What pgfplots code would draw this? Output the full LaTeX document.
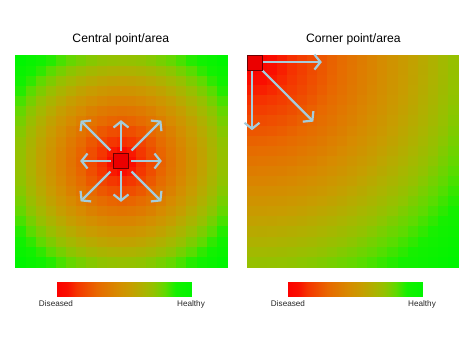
\documentclass[border=0pt]{standalone}
\usepackage{fontspec}
\setmainfont{Liberation Sans}
\usepackage{pgfplots}
\pgfplotsset{compat=1.18}
\usepackage{pgfplotstable}
\usetikzlibrary{arrows.meta}
\definecolor{arrowblue}{RGB}{165,205,220}
\definecolor{sqred}{RGB}{235,0,0}
\definecolor{sqedge}{RGB}{110,0,0}
\pgfplotsset{colormap={dh}{rgb255(0pt)=(252,0,0) rgb255(8pt)=(250,14,0) rgb255(15pt)=(245,52,0) rgb255(30pt)=(232,104,0) rgb255(45pt)=(215,138,0) rgb255(55pt)=(198,158,0) rgb255(65pt)=(170,180,0) rgb255(72pt)=(145,195,0) rgb255(80pt)=(95,218,0) rgb255(88pt)=(20,240,0) rgb255(100pt)=(0,245,0)}}
% squared distance of each cell (a,b) from the origin cell
\pgfplotstableread{
a b c
0 0 0
1 0 1
2 0 4
3 0 9
4 0 16
5 0 25
6 0 36
7 0 49
8 0 64
9 0 81
10 0 100
11 0 121
12 0 144
13 0 169
14 0 196
15 0 225
16 0 256
17 0 289
18 0 324
19 0 361
20 0 400
0 1 1
1 1 2
2 1 5
3 1 10
4 1 17
5 1 26
6 1 37
7 1 50
8 1 65
9 1 82
10 1 101
11 1 122
12 1 145
13 1 170
14 1 197
15 1 226
16 1 257
17 1 290
18 1 325
19 1 362
20 1 401
0 2 4
1 2 5
2 2 8
3 2 13
4 2 20
5 2 29
6 2 40
7 2 53
8 2 68
9 2 85
10 2 104
11 2 125
12 2 148
13 2 173
14 2 200
15 2 229
16 2 260
17 2 293
18 2 328
19 2 365
20 2 404
0 3 9
1 3 10
2 3 13
3 3 18
4 3 25
5 3 34
6 3 45
7 3 58
8 3 73
9 3 90
10 3 109
11 3 130
12 3 153
13 3 178
14 3 205
15 3 234
16 3 265
17 3 298
18 3 333
19 3 370
20 3 409
0 4 16
1 4 17
2 4 20
3 4 25
4 4 32
5 4 41
6 4 52
7 4 65
8 4 80
9 4 97
10 4 116
11 4 137
12 4 160
13 4 185
14 4 212
15 4 241
16 4 272
17 4 305
18 4 340
19 4 377
20 4 416
0 5 25
1 5 26
2 5 29
3 5 34
4 5 41
5 5 50
6 5 61
7 5 74
8 5 89
9 5 106
10 5 125
11 5 146
12 5 169
13 5 194
14 5 221
15 5 250
16 5 281
17 5 314
18 5 349
19 5 386
20 5 425
0 6 36
1 6 37
2 6 40
3 6 45
4 6 52
5 6 61
6 6 72
7 6 85
8 6 100
9 6 117
10 6 136
11 6 157
12 6 180
13 6 205
14 6 232
15 6 261
16 6 292
17 6 325
18 6 360
19 6 397
20 6 436
0 7 49
1 7 50
2 7 53
3 7 58
4 7 65
5 7 74
6 7 85
7 7 98
8 7 113
9 7 130
10 7 149
11 7 170
12 7 193
13 7 218
14 7 245
15 7 274
16 7 305
17 7 338
18 7 373
19 7 410
20 7 449
0 8 64
1 8 65
2 8 68
3 8 73
4 8 80
5 8 89
6 8 100
7 8 113
8 8 128
9 8 145
10 8 164
11 8 185
12 8 208
13 8 233
14 8 260
15 8 289
16 8 320
17 8 353
18 8 388
19 8 425
20 8 464
0 9 81
1 9 82
2 9 85
3 9 90
4 9 97
5 9 106
6 9 117
7 9 130
8 9 145
9 9 162
10 9 181
11 9 202
12 9 225
13 9 250
14 9 277
15 9 306
16 9 337
17 9 370
18 9 405
19 9 442
20 9 481
0 10 100
1 10 101
2 10 104
3 10 109
4 10 116
5 10 125
6 10 136
7 10 149
8 10 164
9 10 181
10 10 200
11 10 221
12 10 244
13 10 269
14 10 296
15 10 325
16 10 356
17 10 389
18 10 424
19 10 461
20 10 500
0 11 121
1 11 122
2 11 125
3 11 130
4 11 137
5 11 146
6 11 157
7 11 170
8 11 185
9 11 202
10 11 221
11 11 242
12 11 265
13 11 290
14 11 317
15 11 346
16 11 377
17 11 410
18 11 445
19 11 482
20 11 521
0 12 144
1 12 145
2 12 148
3 12 153
4 12 160
5 12 169
6 12 180
7 12 193
8 12 208
9 12 225
10 12 244
11 12 265
12 12 288
13 12 313
14 12 340
15 12 369
16 12 400
17 12 433
18 12 468
19 12 505
20 12 544
0 13 169
1 13 170
2 13 173
3 13 178
4 13 185
5 13 194
6 13 205
7 13 218
8 13 233
9 13 250
10 13 269
11 13 290
12 13 313
13 13 338
14 13 365
15 13 394
16 13 425
17 13 458
18 13 493
19 13 530
20 13 569
0 14 196
1 14 197
2 14 200
3 14 205
4 14 212
5 14 221
6 14 232
7 14 245
8 14 260
9 14 277
10 14 296
11 14 317
12 14 340
13 14 365
14 14 392
15 14 421
16 14 452
17 14 485
18 14 520
19 14 557
20 14 596
0 15 225
1 15 226
2 15 229
3 15 234
4 15 241
5 15 250
6 15 261
7 15 274
8 15 289
9 15 306
10 15 325
11 15 346
12 15 369
13 15 394
14 15 421
15 15 450
16 15 481
17 15 514
18 15 549
19 15 586
20 15 625
0 16 256
1 16 257
2 16 260
3 16 265
4 16 272
5 16 281
6 16 292
7 16 305
8 16 320
9 16 337
10 16 356
11 16 377
12 16 400
13 16 425
14 16 452
15 16 481
16 16 512
17 16 545
18 16 580
19 16 617
20 16 656
0 17 289
1 17 290
2 17 293
3 17 298
4 17 305
5 17 314
6 17 325
7 17 338
8 17 353
9 17 370
10 17 389
11 17 410
12 17 433
13 17 458
14 17 485
15 17 514
16 17 545
17 17 578
18 17 613
19 17 650
20 17 689
0 18 324
1 18 325
2 18 328
3 18 333
4 18 340
5 18 349
6 18 360
7 18 373
8 18 388
9 18 405
10 18 424
11 18 445
12 18 468
13 18 493
14 18 520
15 18 549
16 18 580
17 18 613
18 18 648
19 18 685
20 18 724
0 19 361
1 19 362
2 19 365
3 19 370
4 19 377
5 19 386
6 19 397
7 19 410
8 19 425
9 19 442
10 19 461
11 19 482
12 19 505
13 19 530
14 19 557
15 19 586
16 19 617
17 19 650
18 19 685
19 19 722
20 19 761
0 20 400
1 20 401
2 20 404
3 20 409
4 20 416
5 20 425
6 20 436
7 20 449
8 20 464
9 20 481
10 20 500
11 20 521
12 20 544
13 20 569
14 20 596
15 20 625
16 20 656
17 20 689
18 20 724
19 20 761
20 20 800
}\cells
\tikzset{arr/.style={draw=arrowblue, line width=2.2bp, -{Straight Barb[length=6bp, width=15bp]}}}
\pgfplotsset{
  frame/.style={scale only axis, width=212bp, height=212bp,
    xmin=-0.5, xmax=20.5, ymin=-0.5, ymax=20.5, y dir=reverse,
    axis line style={draw=none}, ticks=none, clip=false},
  hm/.style={frame,
    colormap name=dh, point meta min=0,
    colorbar horizontal,
    colorbar style={scale only axis, width=136bp, height=13.5bp,
      at={(parent axis.south west)}, anchor=north west,
      yshift=-7.3bp, xtick=\empty, ytick=\empty,
      axis line style={draw=none}}},
  quad/.style={scatter, only marks, mark=square*, mark size=5bp,
    point meta={sqrt(\thisrow{c})},
    scatter/use mapped color={draw=mapped color, fill=mapped color}}
}
\begin{document}
\begin{tikzpicture}
\path[use as bounding box] (0bp,0bp) rectangle (474bp,338bp);
% Central point / area
\begin{axis}[hm, at={(15bp,71bp)}, anchor=south west, point meta max=14.142,
  colorbar style={xshift=41bp}]
\addplot[quad, restrict x to domain=10:20, restrict y to domain=10:20]
  table[x expr={10+\thisrow{a}}, y expr={10+\thisrow{b}}] {\cells};
\addplot[quad, restrict x to domain=0:10, restrict y to domain=10:20]
  table[x expr={10-\thisrow{a}}, y expr={10+\thisrow{b}}] {\cells};
\addplot[quad, restrict x to domain=10:20, restrict y to domain=0:10]
  table[x expr={10+\thisrow{a}}, y expr={10-\thisrow{b}}] {\cells};
\addplot[quad, restrict x to domain=0:10, restrict y to domain=0:10]
  table[x expr={10-\thisrow{a}}, y expr={10-\thisrow{b}}] {\cells};
\end{axis}
% arrows and source square on top of the central map
\begin{axis}[frame, at={(15bp,71bp)}, anchor=south west]
\draw[arr] (11,10) -- (14.05,10);
\draw[arr] (9,10) -- (5.95,10);
\draw[arr] (10,11) -- (10,14.05);
\draw[arr] (10,9) -- (10,5.95);
\draw[arr] (11.05,11.05) -- (14,14);
\draw[arr] (8.95,8.95) -- (6,6);
\draw[arr] (11.05,8.95) -- (14,6);
\draw[arr] (8.95,11.05) -- (6,14);
\draw[fill=sqred, draw=sqedge, line width=0.6bp] (9.25,9.25) rectangle (10.75,10.75);
\end{axis}
% Corner point / area
\begin{axis}[hm, width=211bp, at={(247bp,71bp)}, anchor=south west, point meta max=28.284,
  colorbar style={xshift=40bp}]
\addplot[quad] table[x=a, y=b] {\cells};
\end{axis}
\begin{axis}[frame, width=211bp, at={(247bp,71bp)}, anchor=south west]
\draw[arr] (1.05,0.2) -- (6.95,0.2);
\draw[arr] (0.0,1.05) -- (0.0,6.95);
\draw[arr] (1.0,1.0) -- (6.1,6.1);
\draw[fill=sqred, draw=sqedge, line width=0.6bp] (-0.5,-0.5) rectangle (1.0,1.0);
\end{axis}
\node[anchor=base, font=\fontsize{12.2}{14}\selectfont] at (120.8bp,295bp) {Central point/area};
\node[anchor=base, font=\fontsize{12.2}{14}\selectfont] at (353.3bp,295bp) {Corner point/area};
\node[anchor=base, font=\fontsize{8.2}{10}\selectfont, text=black!85] at (56bp,31.3bp) {Diseased};
\node[anchor=base, font=\fontsize{8.2}{10}\selectfont, text=black!85] at (191bp,31.3bp) {Healthy};
\node[anchor=base, font=\fontsize{8.2}{10}\selectfont, text=black!85] at (288bp,31.3bp) {Diseased};
\node[anchor=base, font=\fontsize{8.2}{10}\selectfont, text=black!85] at (422bp,31.3bp) {Healthy};
\end{tikzpicture}
\end{document}
